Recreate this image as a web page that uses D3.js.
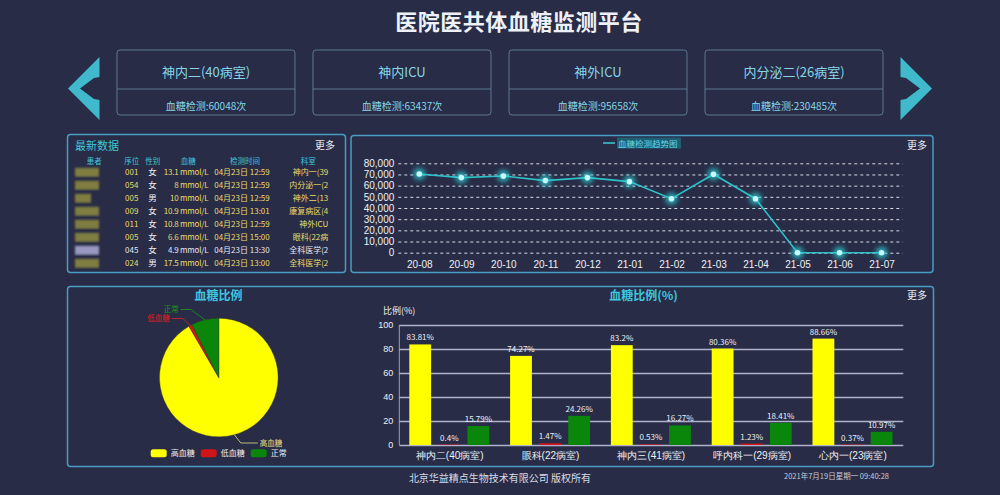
<!DOCTYPE html>
<html lang="zh">
<head>
<meta charset="UTF-8">
<title>医院医共体血糖监测平台</title>
<script src="https://d3js.org/d3.v7.min.js"></script>
<style>
    body {
        margin: 0;
        background: #282c46;
    }
    svg {
        display: block;
        font-family: "Noto Sans CJK SC", "Noto Sans", sans-serif;
    }
    .panel {
        fill: none;
        stroke: #4a9cc4;
        stroke-width: 1.5;
    }
    .card {
        fill: none;
        stroke: #5d7891;
        stroke-width: 1;
    }
    .more {
        fill: #e8ecf4;
        font-size: 10px;
    }
    .axis path, .axis line {
        stroke: none;
    }
    .axis text {
        fill: #eef0f6;
    }
</style>
</head>
<body>
<svg id="board" width="1000" height="495"></svg>
<script>
    // ward cards
    const wardNames = ["神内二(40病室)", "神内ICU", "神外ICU", "内分泌二(26病室)"];
    const wardCounts = [60048, 63437, 95658, 230485];

    // latest data table
    const rowPatient = ["***", "***", "**", "***", "***", "***", "***", "***"];
    const rowSeq = ["001", "054", "005", "009", "011", "005", "045", "024"];
    const rowSex = ["女", "女", "男", "女", "女", "女", "女", "男"];
    const rowGlucose = ["13.1", "8", "10", "10.9", "10.8", "6.6", "4.9", "17.5"];
    const rowTime = ["04月23日 12:59", "04月23日 12:59", "04月23日 12:59", "04月23日 13:01",
                     "04月23日 12:59", "04月23日 15:00", "04月23日 13:30", "04月23日 13:00"];
    const rowDept = ["神内一(39", "内分泌一(2", "神外二(13", "康复病区(4", "神外ICU", "眼科(22病", "全科医学(2", "全科医学(2"];

    // monthly test trend
    const months = ["20-08", "20-09", "20-10", "20-11", "20-12", "21-01", "21-02", "21-03", "21-04", "21-05", "21-06", "21-07"];
    const monthTests = [70400, 67200, 68700, 64500, 67200, 63600, 48300, 70200, 48300, 0, 0, 0];
    const trendTicks = [0, 10000, 20000, 30000, 40000, 50000, 60000, 70000, 80000];

    // pie
    const pieNames = ["高血糖", "低血糖", "正常"];
    const pieValues = [91.6, 0.9, 7.5];

    // grouped bars
    const barWards = ["神内二(40病室)", "眼科(22病室)", "神内三(41病室)", "呼内科一(29病室)", "心内一(23病室)"];
    const barSeries = ["高血糖", "低血糖", "正常"];
    const highPct = [83.81, 74.27, 83.2, 80.36, 88.66];
    const lowPct = [0.4, 1.47, 0.53, 1.23, 0.37];
    const normalPct = [15.79, 24.26, 16.27, 18.41, 10.97];
    const pctTicks = [0, 20, 40, 60, 80, 100];

    const seriesColor = d3.scaleOrdinal(barSeries, ["#ffff00", "#d0141a", "#0a860a"]);

    const svg = d3.select("#board");
    const defs = svg.append("defs");
    defs.append("filter").attr("id", "glow")
        .attr("x", "-100%").attr("y", "-100%").attr("width", "300%").attr("height", "300%")
        .append("feGaussianBlur").attr("stdDeviation", 2.5);
    defs.append("filter").attr("id", "smear")
        .append("feGaussianBlur").attr("stdDeviation", 1.2);

    // title
    svg.append("text")
        .attr("x", 519).attr("y", 30)
        .attr("text-anchor", "middle")
        .attr("fill", "#eef2f8")
        .style("font-size", "22px")
        .style("font-weight", "bold")
        .style("letter-spacing", "0.5px")
        .text("医院医共体血糖监测平台");

    // arrows
    const arrowPts = [[68, 88.5], [99.5, 57], [99.5, 77], [94, 78], [80, 88.5], [94, 99], [99.5, 100], [99.5, 120]];
    svg.append("polygon")
        .attr("points", arrowPts.map(p => p.join(",")).join(" "))
        .attr("fill", "#3fb9cb");
    svg.append("polygon")
        .attr("points", arrowPts.map(p => [1000 - p[0], p[1]].join(",")).join(" "))
        .attr("fill", "#3fb9cb");

    // ward cards
    const cardX = d3.scaleBand().domain(wardNames).range([117, 883]).paddingInner(0.092);
    const cards = svg.selectAll(".cardg").data(wardNames).enter().append("g")
        .attr("transform", d => `translate(${cardX(d)},50)`);
    cards.append("rect").attr("class", "card")
        .attr("width", cardX.bandwidth()).attr("height", 65).attr("rx", 3);
    cards.append("line")
        .attr("x1", 0).attr("x2", cardX.bandwidth()).attr("y1", 39).attr("y2", 39)
        .attr("stroke", "#5d7891");
    cards.append("text")
        .attr("x", cardX.bandwidth() / 2).attr("y", 27)
        .attr("text-anchor", "middle").attr("fill", "#86d6e8")
        .style("font-size", "13px")
        .text(d => d);
    cards.append("text")
        .attr("x", cardX.bandwidth() / 2).attr("y", 60)
        .attr("text-anchor", "middle").attr("fill", "#86d6e8")
        .style("font-size", "10px")
        .text((d, i) => `血糖检测:${wardCounts[i]}次`);

    // panels
    svg.append("rect").attr("class", "panel").attr("x", 67.5).attr("y", 134.5).attr("width", 278).attr("height", 138).attr("rx", 3);
    svg.append("rect").attr("class", "panel").attr("x", 351).attr("y", 135.5).attr("width", 582).attr("height", 137).attr("rx", 3);
    svg.append("rect").attr("class", "panel").attr("x", 67.5).attr("y", 286.5).attr("width", 866).attr("height", 180).attr("rx", 3);

    // ---------- latest data table ----------
    svg.append("text").attr("x", 75).attr("y", 150)
        .attr("fill", "#3ec8dc").style("font-size", "11px").text("最新数据");
    svg.append("text").attr("class", "more").attr("x", 315).attr("y", 149).text("更多");

    const headers = [["患者", 94.3], ["序位", 131.7], ["性别", 152.7], ["血糖", 188.3], ["检测时间", 245], ["科室", 308.3]];
    svg.selectAll(".th").data(headers).enter().append("text")
        .attr("x", d => d[1]).attr("y", 163.5)
        .attr("text-anchor", "middle").attr("fill", "#3ec6da")
        .style("font-size", "7.5px")
        .text(d => d[0]);

    const rowY = d3.scaleLinear().domain([0, 7]).range([172.3, 263.3]);
    const rows = svg.selectAll(".tr").data(rowSeq).enter().append("g")
        .attr("transform", (d, i) => `translate(0,${rowY(i)})`)
        .style("font-size", "8px");
    const rowColor = (i) => i === 6 ? "#e6e6f0" : "#e8dc6a";
    rows.append("rect")
        .attr("x", 75).attr("y", -4.5)
        .attr("width", (d, i) => rowPatient[i].length * 8)
        .attr("height", 9)
        .attr("fill", (d, i) => i === 6 ? "#9a98c0" : "#7f7d40")
        .attr("filter", "url(#smear)");
    rows.append("text").attr("x", 131.7).attr("y", 3).attr("text-anchor", "middle")
        .attr("fill", (d, i) => rowColor(i)).text(d => d);
    rows.append("text").attr("x", 152.5).attr("y", 3).attr("text-anchor", "middle")
        .attr("fill", "#f0f0f4").style("font-size", "8.5px").text((d, i) => rowSex[i]);
    rows.append("text").attr("x", 208.3).attr("y", 3).attr("text-anchor", "end")
        .attr("fill", (d, i) => rowColor(i)).style("letter-spacing", "-0.2px")
        .text((d, i) => `${rowGlucose[i]} mmol/L`);
    rows.append("text").attr("x", 242).attr("y", 3).attr("text-anchor", "middle")
        .attr("fill", (d, i) => rowColor(i)).text((d, i) => rowTime[i]);
    rows.append("text").attr("x", 328.3).attr("y", 3).attr("text-anchor", "end")
        .attr("fill", (d, i) => rowColor(i)).text((d, i) => rowDept[i]);

    // ---------- trend line ----------
    const lx = d3.scalePoint().domain(months).range([398.3, 902.6]).padding(0.5);
    const ly = d3.scaleLinear().domain([0, 80000]).range([252.7, 163.3]);

    svg.append("rect").attr("x", 617).attr("y", 137.5).attr("width", 64).attr("height", 11)
        .attr("fill", "#1d7388").attr("opacity", 0.7);
    svg.append("line").attr("x1", 603).attr("x2", 615).attr("y1", 143).attr("y2", 143)
        .attr("stroke", "#3ec8d4").attr("stroke-width", 1.5);
    svg.append("text").attr("x", 618).attr("y", 146.5)
        .attr("fill", "#5fd8e6").style("font-size", "8.5px").text("血糖检测趋势图");
    svg.append("text").attr("class", "more").attr("x", 907).attr("y", 149).text("更多");

    // dashed grid
    svg.append("g")
        .attr("transform", "translate(398.3,0)")
        .call(d3.axisLeft(ly).tickValues(trendTicks).tickSize(-504.3).tickFormat(""))
        .call(g => g.select(".domain").remove())
        .selectAll("line")
        .attr("stroke", "#d6dae6").attr("stroke-dasharray", "3,3").attr("stroke-width", 1);

    svg.append("g").attr("class", "axis")
        .attr("transform", "translate(398.3,0)")
        .call(d3.axisLeft(ly).tickValues(trendTicks).tickSize(0).tickPadding(4).tickFormat(d3.format(",")))
        .selectAll("text").style("font-size", "10px");

    svg.append("g").attr("class", "axis")
        .attr("transform", "translate(0,252.7)")
        .call(d3.axisBottom(lx).tickSize(0).tickPadding(8.5))
        .selectAll("text").style("font-size", "10px");

    svg.append("path")
        .datum(monthTests)
        .attr("fill", "none")
        .attr("stroke", "#2cc2c8")
        .attr("stroke-width", 1.6)
        .attr("d", d3.line().x((d, i) => lx(months[i])).y(d => ly(d)));

    const pts = svg.selectAll(".pt").data(monthTests).enter().append("g")
        .attr("transform", (d, i) => `translate(${lx(months[i])},${ly(d)})`);
    pts.append("circle").attr("r", 6).attr("fill", "#2fd6dc").attr("opacity", 0.75).attr("filter", "url(#glow)");
    pts.append("circle").attr("r", 2.8).attr("fill", "#c8fbff");

    // ---------- pie ----------
    svg.append("text").attr("x", 218.5).attr("y", 299.5).attr("text-anchor", "middle")
        .attr("fill", "#3ec8e0").style("font-size", "12px").style("font-weight", "bold")
        .text("血糖比例");

    const pieCx = 218.8, pieCy = 377.5, pieR = 59.3;
    const arcs = d3.pie().sort(null)(pieValues);
    const arc = d3.arc().innerRadius(0).outerRadius(pieR);
    const pieG = svg.append("g").attr("transform", `translate(${pieCx},${pieCy})`);
    pieG.selectAll("path").data(arcs).enter().append("path")
        .attr("d", arc)
        .attr("fill", (d, i) => seriesColor(pieNames[i]))
        .attr("stroke", "#3a3a28").attr("stroke-width", 0.4);

    // pie labels with leader lines
    const labelEnds = [[[14, 57.5], [22, 65.5], [39, 65.5]], [[-26, -53], [-36, -59], [-47, -59]], [[-11, -58], [-28, -68], [-38, -68]]];
    const labelColors = ["#e4e08a", "#e02020", "#1c9a1c"];
    arcs.forEach((a, i) => {
        const ang = (a.startAngle + a.endAngle) / 2;
        const p0 = [Math.sin(ang) * pieR, -Math.cos(ang) * pieR];
        const pts2 = [p0, labelEnds[i][1], labelEnds[i][2]];
        pieG.append("polyline")
            .attr("points", pts2.map(p => p.join(",")).join(" "))
            .attr("fill", "none").attr("stroke", labelColors[i]).attr("stroke-width", 0.8);
        const right = labelEnds[i][2][0] > 0;
        pieG.append("text")
            .attr("x", labelEnds[i][2][0] + (right ? 2 : -2))
            .attr("y", labelEnds[i][2][1] + 2.5)
            .attr("text-anchor", right ? "start" : "end")
            .attr("fill", labelColors[i])
            .style("font-size", "7.5px")
            .text(pieNames[i]);
    });

    // pie legend
    const legX = d3.scalePoint().domain(pieNames).range([150.7, 250.7]);
    const leg = svg.selectAll(".leg").data(pieNames).enter().append("g")
        .attr("transform", d => `translate(${legX(d)},453.3)`);
    leg.append("rect").attr("x", 0).attr("y", -4).attr("width", 16).attr("height", 8).attr("rx", 2.5)
        .attr("fill", d => seriesColor(d));
    leg.append("text").attr("x", 20).attr("y", 3).attr("fill", "#eef0f6")
        .style("font-size", "8px").text(d => d);

    // ---------- grouped bars ----------
    svg.append("text").attr("x", 643.5).attr("y", 299.5).attr("text-anchor", "middle")
        .attr("fill", "#3ec8e0").style("font-size", "12px").style("font-weight", "bold")
        .text("血糖比例(%)");
    svg.append("text").attr("class", "more").attr("x", 907).attr("y", 299).text("更多");
    svg.append("text").attr("x", 383).attr("y", 313.5).attr("fill", "#eef0f6")
        .style("font-size", "9px").text("比例(%)");

    const bx0 = d3.scaleBand().domain(barWards).range([399.3, 903.3]);
    const bx1 = d3.scaleBand().domain(barSeries).range([10, 90]).paddingInner(0.25);
    const by = d3.scaleLinear().domain([0, 100]).range([445, 325]);

    svg.append("g")
        .attr("transform", "translate(399.3,0)")
        .call(d3.axisLeft(by).tickValues(pctTicks).tickSize(-504).tickFormat(""))
        .call(g => g.select(".domain").attr("stroke", "#9aa0bc").attr("d", "M0,325V445"))
        .selectAll("line")
        .attr("stroke", "#aeb2cc").attr("stroke-width", 1.3);

    svg.append("g").attr("class", "axis")
        .attr("transform", "translate(399.3,0)")
        .call(d3.axisLeft(by).tickValues(pctTicks).tickSize(0).tickPadding(6))
        .selectAll("text").style("font-size", "9px");

    svg.append("g").attr("class", "axis")
        .attr("transform", "translate(0,445)")
        .call(d3.axisBottom(bx0).tickSize(0).tickPadding(6.5))
        .selectAll("text").style("font-size", "10px");

    const seriesVals = [highPct, lowPct, normalPct];
    const barData = [];
    barWards.forEach((w, i) => {
        barSeries.forEach((s, j) => barData.push({ ward: w, series: s, value: seriesVals[j][i] }));
    });

    const bars = svg.selectAll(".bar").data(barData).enter().append("g")
        .attr("transform", d => `translate(${bx0(d.ward) + bx1(d.series)},0)`);
    bars.append("rect")
        .attr("y", d => by(d.value))
        .attr("width", bx1.bandwidth())
        .attr("height", d => 445 - by(d.value))
        .attr("fill", d => seriesColor(d.series));
    bars.append("text")
        .attr("x", bx1.bandwidth() / 2)
        .attr("y", d => by(d.value) - 4)
        .attr("text-anchor", "middle")
        .attr("fill", "#eef0f6")
        .style("font-size", "8px")
        .text(d => `${d.value}%`);

    // footer
    svg.append("text").attr("x", 500).attr("y", 481.5).attr("text-anchor", "middle")
        .attr("fill", "#d8dce8").style("font-size", "10px")
        .text("北京华益精点生物技术有限公司 版权所有");
    svg.append("text").attr("x", 889).attr("y", 479).attr("text-anchor", "end")
        .attr("fill", "#c8ccd8").style("font-size", "7.5px")
        .text("2021年7月19日星期一 09:40:28");
</script>
</body>
</html>
